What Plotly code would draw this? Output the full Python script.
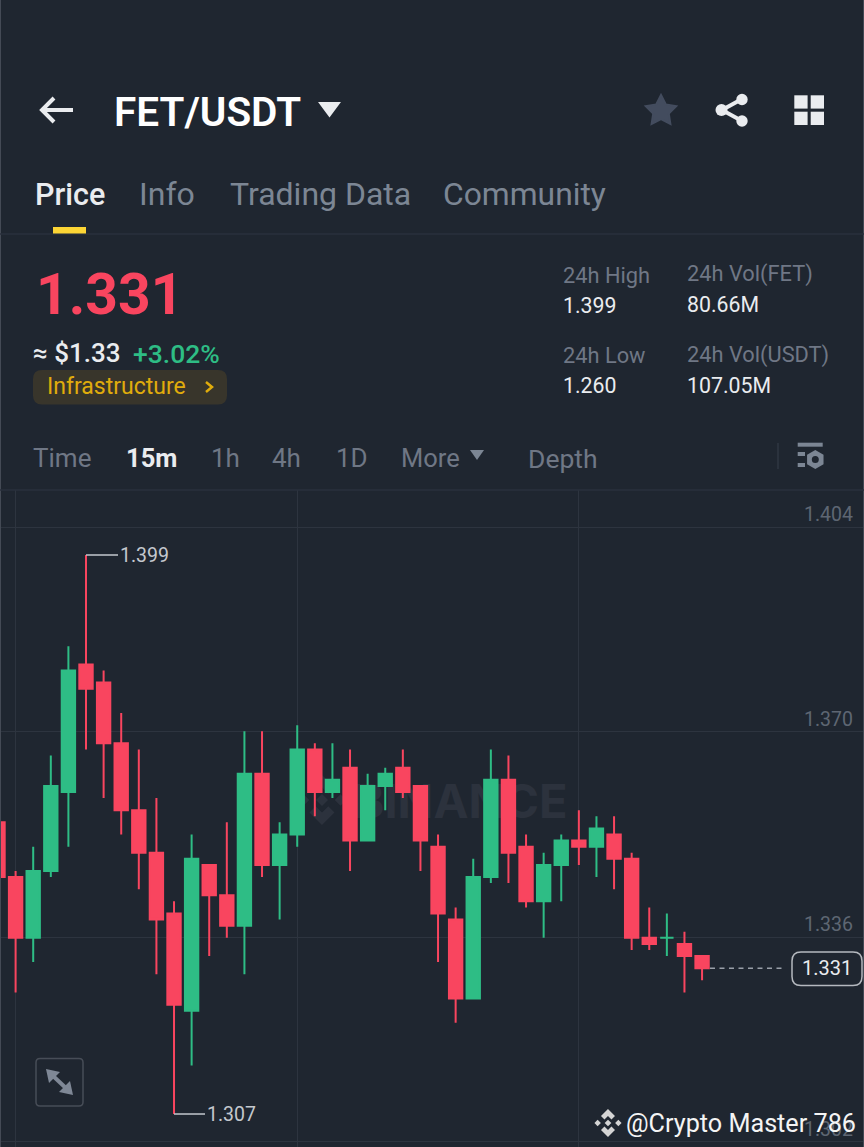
import numpy as np
import plotly.graph_objects as go

W, H = 864, 1147

# candles, 15m, one tick is 0.001
candle_idx = list(range(41))
opens = [1.355, 1.346, 1.336, 1.347, 1.360, 1.381, 1.378, 1.368, 1.357, 1.350, 1.340,
         1.324, 1.348, 1.343, 1.338, 1.363, 1.348, 1.353, 1.367, 1.360, 1.364, 1.352,
         1.361, 1.364, 1.361, 1.351, 1.339, 1.326, 1.346, 1.362, 1.351, 1.342, 1.348,
         1.352, 1.351, 1.353, 1.349, 1.336, 1.336, 1.335, 1.333]
highs = [1.357, 1.347, 1.351, 1.366, 1.384, 1.399, 1.380, 1.373, 1.367, 1.359, 1.342,
         1.353, 1.348, 1.355, 1.370, 1.370, 1.355, 1.371, 1.368, 1.368, 1.367, 1.363,
         1.364, 1.367, 1.361, 1.353, 1.341, 1.349, 1.367, 1.366, 1.353, 1.350, 1.353,
         1.357, 1.356, 1.356, 1.350, 1.341, 1.340, 1.337, 1.333]
lows = [1.344, 1.327, 1.332, 1.346, 1.351, 1.367, 1.359, 1.353, 1.344, 1.330, 1.307,
        1.315, 1.333, 1.336, 1.330, 1.346, 1.339, 1.351, 1.356, 1.359, 1.347, 1.352,
        1.357, 1.359, 1.347, 1.332, 1.322, 1.326, 1.345, 1.345, 1.341, 1.336, 1.342,
        1.348, 1.346, 1.344, 1.334, 1.334, 1.333, 1.327, 1.329]
closes = [1.346, 1.336, 1.347, 1.361, 1.380, 1.377, 1.368, 1.357, 1.350, 1.339, 1.325,
          1.349, 1.343, 1.338, 1.363, 1.348, 1.353, 1.367, 1.360, 1.362, 1.352, 1.361,
          1.363, 1.360, 1.352, 1.340, 1.326, 1.346, 1.362, 1.350, 1.342, 1.348, 1.352,
          1.351, 1.354, 1.349, 1.336, 1.335, 1.336, 1.333, 1.331]

# grid prices are not round numbers, the labels are rounded to 3 places
price_ticks = [1.4036, 1.3699, 1.3361, 1.3024]
time_grid = [1, 17, 33]
high_mark = (5, 1.399)
low_mark = (10, 1.307)
last_price = 1.331

BG = "#1F2630"
GRID = "#2D343F"
RED = "#F9455F"
GREEN = "#2EBD85"
WHITE = "#EAECEF"
GRAY = "#7C8694"
GRAY2 = "#6F7785"
FONT = "Roboto"


def px(x):
    return x / W


def py(y):
    return 1 - y / H


def poly(pts, close=True):
    s = "M" + " L".join(f"{px(x):.5f},{py(y):.5f}" for x, y in pts)
    return s + (" Z" if close else "")


def rrect(x0, y0, x1, y1, r):
    return (f"M{px(x0 + r)},{py(y0)} L{px(x1 - r)},{py(y0)} Q{px(x1)},{py(y0)} {px(x1)},{py(y0 + r)} "
            f"L{px(x1)},{py(y1 - r)} Q{px(x1)},{py(y1)} {px(x1 - r)},{py(y1)} L{px(x0 + r)},{py(y1)} "
            f"Q{px(x0)},{py(y1)} {px(x0)},{py(y1 - r)} L{px(x0)},{py(y0 + r)} Q{px(x0)},{py(y0)} {px(x0 + r)},{py(y0)} Z")


shapes = []
notes = []


def fill(path, color, layer="above"):
    shapes.append(dict(type="path", xref="paper", yref="paper", path=path, fillcolor=color,
                       line=dict(width=0), layer=layer))


def stroke(pts, color, width, close=False, dash=None):
    shapes.append(dict(type="path", xref="paper", yref="paper", path=poly(pts, close),
                       line=dict(color=color, width=width, dash=dash)))


def circle(cx, cy, r, color):
    shapes.append(dict(type="circle", xref="paper", yref="paper", x0=px(cx - r), x1=px(cx + r),
                       y0=py(cy + r), y1=py(cy - r), fillcolor=color, line=dict(width=0)))


def txt(x, y, text, size, color, weight=400, anchor="left"):
    notes.append(dict(xref="paper", yref="paper", x=px(x - 1.5), y=py(y), text=text, showarrow=False,
                      xanchor=anchor, yanchor="middle", borderpad=0,
                      font=dict(family=FONT, size=size, color=color, weight=weight)))


def logo(cx, cy, s, color, layer="above"):
    pieces = [[(0, -1), (.5, -.5), (.25, -.25), (0, -.5), (-.25, -.25), (-.5, -.5)],
              [(0, 1), (.5, .5), (.25, .25), (0, .5), (-.25, .25), (-.5, .5)],
              [(0, -.24), (.24, 0), (0, .24), (-.24, 0)],
              [(.74, -.23), (.97, 0), (.74, .23), (.51, 0)],
              [(-.74, -.23), (-.97, 0), (-.74, .23), (-.51, 0)]]
    for p in pieces:
        fill(poly([(cx + a * s, cy + b * s) for a, b in p]), color, layer)


# screen edges and separators
for x in [0.5, 863.5]:
    stroke([(x, 0), (x, H)], "#444A55", 1)
for y in [234, 490]:
    stroke([(0, y), (W, y)], "#2A313C", 1.5)

# header
stroke([(73, 110), (42, 110)], WHITE, 4)
stroke([(54, 98), (42, 110), (54, 122)], WHITE, 4)
txt(114, 112, "FET/USDT", 40.5, "#FFFFFF", 600)
shapes.append(dict(type="path", xref="paper", yref="paper", path=poly([(321, 103.5), (338, 103.5), (329.5, 115)]),
                   fillcolor=WHITE, line=dict(color=WHITE, width=3)))

ang = np.arange(10) * np.pi / 5 - np.pi / 2
rad = np.where(np.arange(10) % 2 == 0, 16, 8.2)
star = list(zip(661 + rad * np.cos(ang), 111 + rad * np.sin(ang)))
shapes.append(dict(type="path", xref="paper", yref="paper", path=poly(star), fillcolor="#434C5E",
                   line=dict(color="#434C5E", width=2)))

stroke([(742, 99), (722, 110), (742, 121)], WHITE, 4)
circle(742, 99.5, 5.7, WHITE)
circle(721.5, 110, 6, WHITE)
circle(742, 121, 5.7, WHITE)
for x0 in [794.3, 810.7]:
    for y0 in [95.3, 111.7]:
        fill(poly([(x0, y0), (x0 + 13.3, y0), (x0 + 13.3, y0 + 13.3), (x0, y0 + 13.3)]), WHITE)

# tabs
txt(35, 194, "Price", 30.5, WHITE, 500)
txt(139, 194, "Info", 32, GRAY)
txt(230, 194, "Trading Data", 32, GRAY)
txt(443, 194, "Community", 31.8, GRAY)
fill(poly([(53, 227), (86, 227), (86, 233.5), (53, 233.5)]), "#FCD535")

# price block
txt(36, 295, "1.331", 57, RED, 700)
txt(33, 353, "≈ $1.33", 26, WHITE, 500)
txt(133, 353, "+3.02%", 26.5, GREEN, 500)
fill(rrect(33, 370, 227, 404.5, 9), "#38352B")
txt(47, 387, "Infrastructure", 23, "#E0AC0C")
stroke([(206, 382), (212, 387), (206, 392)], "#E0AC0C", 2.5)

stat_x = [563, 563, 687, 687]
stat_y = [275, 355, 274, 355]
stat_labels = ["24h High", "24h Low", "24h Vol(FET)", "24h Vol(USDT)"]
stat_values = ["1.399", "1.260", "80.66M", "107.05M"]
for x, y, lab, val in zip(stat_x, stat_y, stat_labels, stat_values):
    txt(x, y, lab, 21.8, GRAY2)
    txt(x, y + 31, val, 21.3, WHITE, 400)

# interval row
txt(33, 458, "Time", 26, GRAY2)
txt(126, 458, "15m", 25.5, WHITE, 700)
txt(211, 458, "1h", 26, GRAY2)
txt(272, 458, "4h", 26, GRAY2)
txt(336, 458, "1D", 26, GRAY2)
txt(401, 458, "More", 25.5, GRAY2)
fill(poly([(470, 450), (484, 450), (477, 460)]), GRAY)
txt(528, 458, "Depth", 26.5, GRAY2)
stroke([(778, 443), (778, 469)], "#303742", 1.5)
fill(poly([(797.7, 442.7), (822.7, 442.7), (822.7, 446.7), (797.7, 446.7)]), GRAY)
fill(poly([(797.7, 452), (805, 452), (805, 456), (797.7, 456)]), GRAY)
fill(poly([(797.7, 463), (805, 463), (805, 467), (797.7, 467)]), GRAY)
ang = np.arange(6) * np.pi / 3 - np.pi / 2
fill(poly(list(zip(815.3 + 9.5 * np.cos(ang), 459.5 + 9.5 * np.sin(ang)))), GRAY)
circle(815.3, 459.5, 3.5, BG)

# watermark sits under the candles
shapes.append(dict(type="rect", xref="paper", yref="paper", x0=px(349), x1=px(572), y0=py(818), y1=py(780),
                   line=dict(width=0), layer="below",
                   label=dict(text="BINANCE", textposition="middle center", padding=0,
                              font=dict(family="Inter", size=47, color="#2C323D", weight=700))))
logo(322, 800, 25, "#2C323D", "below")

# chart callouts
for (n, p), length in zip([high_mark, low_mark], [32, 31]):
    shapes.append(dict(type="line", xref="x", yref="y", xsizemode="pixel", xanchor=n, x0=0, x1=length,
                       y0=p, y1=p, line=dict(color="#C4C8CE", width=1.5)))
    notes.append(dict(x=n, y=p, xshift=length, text=f"{p:.3f}", showarrow=False, xanchor="left",
                      yanchor="middle", font=dict(family=FONT, size=19.5, color="#C4C8CE")))

shapes.append(dict(type="line", xref="x", yref="y", x0=candle_idx[-1] + 0.45, x1=candle_idx[-1] + 4.7,
                   y0=last_price, y1=last_price, line=dict(color="#9AA0A9", width=1.5, dash="5px 4.5px")))
shapes.append(dict(type="path", xref="paper", yref="paper", path=rrect(792, 952, 862, 985.5, 9),
                   fillcolor=BG, line=dict(color="#B5B9BF", width=1.5)))
notes.append(dict(x=px(827), y=last_price, yref="y", xref="paper", text=f"{last_price:.3f}", showarrow=False,
                  font=dict(family=FONT, size=20, color=WHITE), xanchor="center", yanchor="middle"))

# expand button
shapes.append(dict(type="path", xref="paper", yref="paper", path=rrect(36, 1058.5, 83, 1106, 4),
                   line=dict(color="#474D57", width=1.5)))
stroke([(52, 1075), (68, 1090)], "#7F8896", 4)
fill(poly([(46, 1069), (60, 1072), (49, 1083)]), "#7F8896")
fill(poly([(73, 1095), (59, 1092), (70, 1081)]), "#7F8896")

# source tag
logo(608, 1123, 14, "#D4D4D4")
txt(626, 1123, "@Crypto Master 786", 25.2, "#F4F4F4")

fig = go.Figure(go.Candlestick(
    x=candle_idx, open=opens, high=highs, low=lows, close=closes,
    increasing=dict(line=dict(color=GREEN, width=2), fillcolor=GREEN),
    decreasing=dict(line=dict(color=RED, width=2), fillcolor=RED),
    whiskerwidth=0, showlegend=False,
))

fig.update_layout(
    width=W, height=H, margin=dict(l=0, r=0, t=0, b=0),
    paper_bgcolor=BG, plot_bgcolor=BG, showlegend=False, boxgap=0.24, boxgroupgap=0,
    shapes=shapes, annotations=notes,
    xaxis=dict(range=[0.1136, 49.2], tickvals=time_grid, showticklabels=False, ticks="",
               gridcolor=GRID, gridwidth=1, zeroline=False, showline=False,
               rangeslider=dict(visible=False)),
    yaxis=dict(domain=[0, 1 - 490 / H], range=[1.30157, 1.40970], side="right",
               tickvals=price_ticks, ticktext=[f"{v:.3f}" for v in price_ticks],
               ticklabelposition="inside", ticklabelshift=-13, ticklabelstandoff=8,
               tickfont=dict(family=FONT, size=19.5, color="#5E6673"), ticks="",
               gridcolor=GRID, gridwidth=1, zeroline=False, showline=False),
)

fig.write_html("out.html", config=dict(displayModeBar=False),
               post_script="document.body.style.margin='0';document.body.style.overflow='hidden';")
